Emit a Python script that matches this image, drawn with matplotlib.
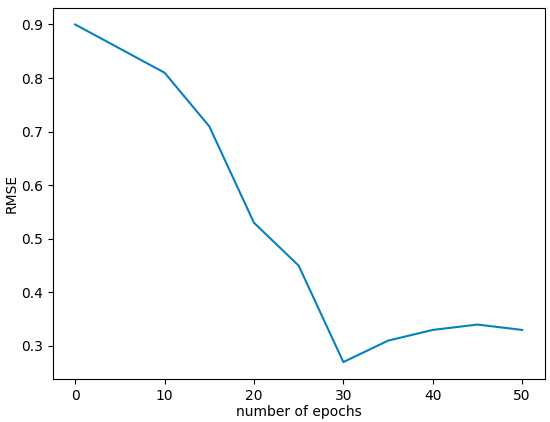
import matplotlib
matplotlib.use("Agg")
import matplotlib.pyplot as plt

epochs = [0, 10, 15, 20, 25, 30, 35, 40, 45, 50]
rmse = [0.90, 0.81, 0.71, 0.53, 0.45, 0.27, 0.31, 0.33, 0.34, 0.33]

fig, ax = plt.subplots(figsize=(5.5, 4.22), dpi=100)
ax.plot(epochs, rmse, color="#0580C0")
ax.set_xlabel("number of epochs", labelpad=1.5)
ax.set_ylabel("RMSE", labelpad=1.5)
fig.subplots_adjust(left=0.096, right=0.99, top=0.982, bottom=0.102)
fig.savefig("out.png")
